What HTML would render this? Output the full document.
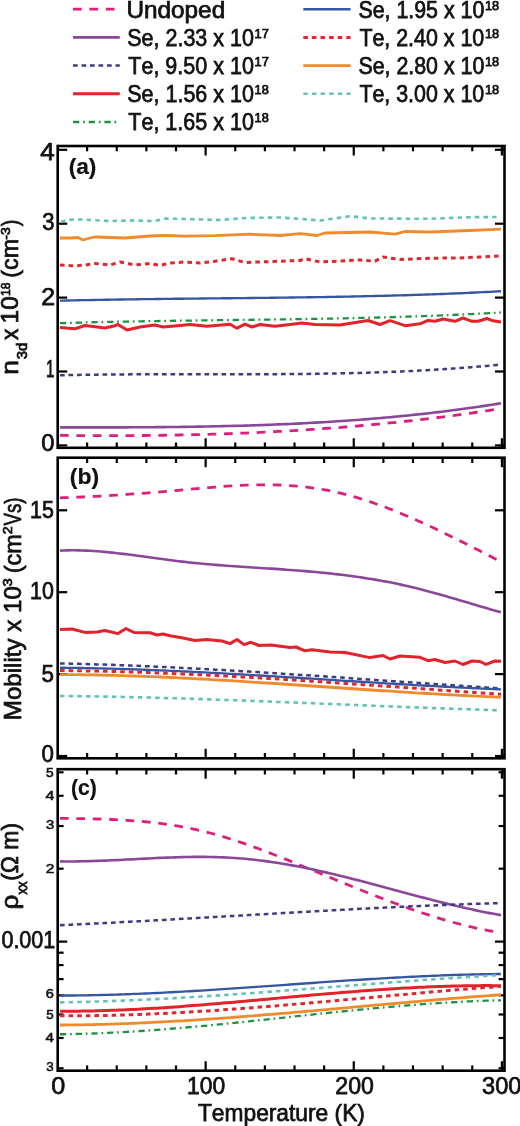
<!DOCTYPE html>
<html><head><meta charset="utf-8"><title>plot</title><style>html,body{margin:0;padding:0;background:#fff;}svg{display:block;filter:blur(0.35px);}</style></head><body>
<svg width="520" height="1126" viewBox="0 0 520 1126" font-family='"Liberation Sans", Arial, sans-serif' fill="#111">
<style>text{font-kerning:none;stroke:#111;stroke-width:0.75px;}</style>
<rect width="520" height="1126" fill="#fff"/>
<line x1="73.0" y1="9.20" x2="119.8" y2="9.20" stroke="#dc1f7d" stroke-width="2.8" stroke-dasharray="8.7 7.7"/>
<text x="126.40" y="17.50" font-size="24.3" font-weight="normal" textLength="98.80" lengthAdjust="spacingAndGlyphs">Undoped</text>
<line x1="73.0" y1="37.40" x2="119.8" y2="37.40" stroke="#8a4698" stroke-width="2.6"/>
<text x="127.30" y="45.70" font-size="24.3" font-weight="normal" textLength="126.56" lengthAdjust="spacingAndGlyphs">Se, 2.33 x 10</text>
<text x="254.60" y="37.70" font-size="12.6" font-weight="normal" textLength="14.27" lengthAdjust="spacingAndGlyphs">17</text>
<line x1="73.0" y1="65.60" x2="119.8" y2="65.60" stroke="#3d3b84" stroke-width="2.5" stroke-dasharray="4.7 3.8"/>
<text x="128.29" y="73.90" font-size="24.3" font-weight="normal" textLength="125.57" lengthAdjust="spacingAndGlyphs">Te, 9.50 x 10</text>
<text x="254.60" y="65.90" font-size="12.6" font-weight="normal" textLength="14.27" lengthAdjust="spacingAndGlyphs">17</text>
<line x1="73.0" y1="93.80" x2="119.8" y2="93.80" stroke="#e3222b" stroke-width="3.0"/>
<text x="127.30" y="102.10" font-size="24.3" font-weight="normal" textLength="126.56" lengthAdjust="spacingAndGlyphs">Se, 1.56 x 10</text>
<text x="254.60" y="94.10" font-size="12.6" font-weight="normal" textLength="14.17" lengthAdjust="spacingAndGlyphs">18</text>
<line x1="73.0" y1="122.00" x2="119.8" y2="122.00" stroke="#1c9444" stroke-width="2.3" stroke-dasharray="6.3 3.8 1.7 3.9"/>
<text x="128.29" y="130.30" font-size="24.3" font-weight="normal" textLength="125.57" lengthAdjust="spacingAndGlyphs">Te, 1.65 x 10</text>
<text x="254.60" y="122.30" font-size="12.6" font-weight="normal" textLength="14.17" lengthAdjust="spacingAndGlyphs">18</text>
<line x1="303.3" y1="9.20" x2="350.6" y2="9.20" stroke="#3656a2" stroke-width="2.35"/>
<text x="358.41" y="17.50" font-size="24.3" font-weight="normal" textLength="125.85" lengthAdjust="spacingAndGlyphs">Se, 1.95 x 10</text>
<text x="485.00" y="9.50" font-size="12.6" font-weight="normal" textLength="14.17" lengthAdjust="spacingAndGlyphs">18</text>
<line x1="303.3" y1="37.40" x2="350.6" y2="37.40" stroke="#dc2830" stroke-width="3.0" stroke-dasharray="4.6 4.0"/>
<text x="359.39" y="45.70" font-size="24.3" font-weight="normal" textLength="124.87" lengthAdjust="spacingAndGlyphs">Te, 2.40 x 10</text>
<text x="485.00" y="37.70" font-size="12.6" font-weight="normal" textLength="14.17" lengthAdjust="spacingAndGlyphs">18</text>
<line x1="303.3" y1="65.60" x2="350.6" y2="65.60" stroke="#f18a2b" stroke-width="2.8"/>
<text x="358.41" y="73.90" font-size="24.3" font-weight="normal" textLength="125.85" lengthAdjust="spacingAndGlyphs">Se, 2.80 x 10</text>
<text x="485.00" y="65.90" font-size="12.6" font-weight="normal" textLength="14.17" lengthAdjust="spacingAndGlyphs">18</text>
<line x1="303.3" y1="93.80" x2="350.6" y2="93.80" stroke="#64c1ba" stroke-width="2.6" stroke-dasharray="4.5 4.15"/>
<text x="359.39" y="102.10" font-size="24.3" font-weight="normal" textLength="124.87" lengthAdjust="spacingAndGlyphs">Te, 3.00 x 10</text>
<text x="485.00" y="94.10" font-size="12.6" font-weight="normal" textLength="14.17" lengthAdjust="spacingAndGlyphs">18</text>
<rect x="57.7" y="146.0" width="446.80" height="301.80" fill="none" stroke="#000" stroke-width="2.6"/>
<line x1="87.13" y1="146.00" x2="87.13" y2="151.30" stroke="#000" stroke-width="2.2"/>
<line x1="87.13" y1="447.80" x2="87.13" y2="442.50" stroke="#000" stroke-width="2.2"/>
<line x1="116.75" y1="146.00" x2="116.75" y2="151.30" stroke="#000" stroke-width="2.2"/>
<line x1="116.75" y1="447.80" x2="116.75" y2="442.50" stroke="#000" stroke-width="2.2"/>
<line x1="146.38" y1="146.00" x2="146.38" y2="151.30" stroke="#000" stroke-width="2.2"/>
<line x1="146.38" y1="447.80" x2="146.38" y2="442.50" stroke="#000" stroke-width="2.2"/>
<line x1="176.00" y1="146.00" x2="176.00" y2="151.30" stroke="#000" stroke-width="2.2"/>
<line x1="176.00" y1="447.80" x2="176.00" y2="442.50" stroke="#000" stroke-width="2.2"/>
<line x1="205.63" y1="146.00" x2="205.63" y2="155.50" stroke="#000" stroke-width="2.2"/>
<line x1="205.63" y1="447.80" x2="205.63" y2="438.30" stroke="#000" stroke-width="2.2"/>
<line x1="235.26" y1="146.00" x2="235.26" y2="151.30" stroke="#000" stroke-width="2.2"/>
<line x1="235.26" y1="447.80" x2="235.26" y2="442.50" stroke="#000" stroke-width="2.2"/>
<line x1="264.88" y1="146.00" x2="264.88" y2="151.30" stroke="#000" stroke-width="2.2"/>
<line x1="264.88" y1="447.80" x2="264.88" y2="442.50" stroke="#000" stroke-width="2.2"/>
<line x1="294.51" y1="146.00" x2="294.51" y2="151.30" stroke="#000" stroke-width="2.2"/>
<line x1="294.51" y1="447.80" x2="294.51" y2="442.50" stroke="#000" stroke-width="2.2"/>
<line x1="324.13" y1="146.00" x2="324.13" y2="151.30" stroke="#000" stroke-width="2.2"/>
<line x1="324.13" y1="447.80" x2="324.13" y2="442.50" stroke="#000" stroke-width="2.2"/>
<line x1="353.76" y1="146.00" x2="353.76" y2="155.50" stroke="#000" stroke-width="2.2"/>
<line x1="353.76" y1="447.80" x2="353.76" y2="438.30" stroke="#000" stroke-width="2.2"/>
<line x1="383.39" y1="146.00" x2="383.39" y2="151.30" stroke="#000" stroke-width="2.2"/>
<line x1="383.39" y1="447.80" x2="383.39" y2="442.50" stroke="#000" stroke-width="2.2"/>
<line x1="413.01" y1="146.00" x2="413.01" y2="151.30" stroke="#000" stroke-width="2.2"/>
<line x1="413.01" y1="447.80" x2="413.01" y2="442.50" stroke="#000" stroke-width="2.2"/>
<line x1="442.64" y1="146.00" x2="442.64" y2="151.30" stroke="#000" stroke-width="2.2"/>
<line x1="442.64" y1="447.80" x2="442.64" y2="442.50" stroke="#000" stroke-width="2.2"/>
<line x1="472.26" y1="146.00" x2="472.26" y2="151.30" stroke="#000" stroke-width="2.2"/>
<line x1="472.26" y1="447.80" x2="472.26" y2="442.50" stroke="#000" stroke-width="2.2"/>
<line x1="501.89" y1="146.00" x2="501.89" y2="155.50" stroke="#000" stroke-width="2.2"/>
<line x1="501.89" y1="447.80" x2="501.89" y2="438.30" stroke="#000" stroke-width="2.2"/>
<line x1="57.70" y1="445.40" x2="67.20" y2="445.40" stroke="#000" stroke-width="2.2"/>
<line x1="504.50" y1="445.40" x2="495.00" y2="445.40" stroke="#000" stroke-width="2.2"/>
<line x1="57.70" y1="371.50" x2="67.20" y2="371.50" stroke="#000" stroke-width="2.2"/>
<line x1="504.50" y1="371.50" x2="495.00" y2="371.50" stroke="#000" stroke-width="2.2"/>
<line x1="57.70" y1="297.60" x2="67.20" y2="297.60" stroke="#000" stroke-width="2.2"/>
<line x1="504.50" y1="297.60" x2="495.00" y2="297.60" stroke="#000" stroke-width="2.2"/>
<line x1="57.70" y1="223.70" x2="67.20" y2="223.70" stroke="#000" stroke-width="2.2"/>
<line x1="504.50" y1="223.70" x2="495.00" y2="223.70" stroke="#000" stroke-width="2.2"/>
<line x1="57.70" y1="149.80" x2="67.20" y2="149.80" stroke="#000" stroke-width="2.2"/>
<line x1="504.50" y1="149.80" x2="495.00" y2="149.80" stroke="#000" stroke-width="2.2"/>
<text x="40.18" y="159.60" font-size="24.3" font-weight="normal" textLength="14.40" lengthAdjust="spacingAndGlyphs">4</text>
<text x="42.14" y="230.30" font-size="24.3" font-weight="normal" textLength="12.26" lengthAdjust="spacingAndGlyphs">3</text>
<text x="41.22" y="305.30" font-size="24.3" font-weight="normal" textLength="13.86" lengthAdjust="spacingAndGlyphs">2</text>
<text x="46.12" y="377.40" font-size="24.3" font-weight="normal" textLength="8.45" lengthAdjust="spacingAndGlyphs">1</text>
<text x="41.15" y="451.10" font-size="24.3" font-weight="normal" textLength="13.20" lengthAdjust="spacingAndGlyphs">0</text>
<text x="68.65" y="174.40" font-size="21.6" font-weight="bold" textLength="27.71" lengthAdjust="spacingAndGlyphs" style="stroke-width:0.2px">(a)</text>
<path d="M61.00,222.00 L66.00,220.50 L72.00,219.50 L82.00,219.50 L100.00,220.50 L110.00,221.00 L130.00,220.50 L155.00,221.00 L165.00,218.50 L185.00,219.00 L220.00,220.00 L245.00,218.00 L280.00,217.50 L300.00,218.80 L320.00,220.50 L350.00,216.20 L370.00,218.50 L430.00,218.80 L470.00,217.20 L501.00,217.00" fill="none" stroke="#64c1ba" stroke-width="2.6" stroke-dasharray="4.5 4.15" stroke-linejoin="round"/>
<path d="M60.00,238.00 L70.00,238.00 L78.00,237.50 L83.00,240.00 L90.00,238.00 L95.00,237.00 L125.00,238.00 L150.00,236.00 L165.00,235.50 L185.00,236.20 L215.00,235.70 L250.00,234.20 L280.00,235.50 L300.00,233.70 L317.00,235.50 L325.00,233.00 L370.00,232.00 L395.00,234.20 L405.00,231.50 L430.00,232.00 L470.00,230.50 L501.00,229.20" fill="none" stroke="#f18a2b" stroke-width="2.8" stroke-linejoin="round"/>
<path d="M60.00,265.00 L75.00,266.00 L85.00,265.00 L95.00,263.50 L110.00,265.00 L120.00,262.00 L135.00,265.00 L150.00,263.50 L160.00,265.50 L170.00,263.00 L185.00,262.00 L200.00,263.00 L215.00,261.20 L232.00,258.70 L245.00,262.50 L280.00,261.20 L300.00,260.50 L305.00,258.70 L320.00,262.00 L360.00,260.00 L375.00,261.20 L383.00,257.00 L400.00,259.50 L430.00,258.20 L460.00,258.00 L480.00,257.00 L501.00,256.00" fill="none" stroke="#dc2830" stroke-width="3.0" stroke-dasharray="4.6 4.0" stroke-linejoin="round"/>
<path d="M60.00,300.70 L63.71,300.61 L67.41,300.52 L71.12,300.44 L74.82,300.35 L78.53,300.27 L82.24,300.20 L85.94,300.12 L89.65,300.05 L93.35,299.98 L97.06,299.91 L100.76,299.84 L104.47,299.77 L108.18,299.71 L111.88,299.65 L115.59,299.58 L119.29,299.53 L123.00,299.47 L126.71,299.41 L130.41,299.36 L134.12,299.30 L137.82,299.25 L141.53,299.20 L145.24,299.15 L148.94,299.10 L152.65,299.05 L156.35,299.01 L160.06,298.96 L163.76,298.92 L167.47,298.87 L171.18,298.83 L174.88,298.79 L178.59,298.75 L182.29,298.71 L186.00,298.67 L189.71,298.63 L193.41,298.59 L197.12,298.55 L200.82,298.51 L204.53,298.47 L208.24,298.43 L211.94,298.40 L215.65,298.36 L219.35,298.32 L223.06,298.28 L226.76,298.24 L230.47,298.21 L234.18,298.17 L237.88,298.13 L241.59,298.09 L245.29,298.05 L249.00,298.01 L252.71,297.97 L256.41,297.93 L260.12,297.89 L263.82,297.85 L267.53,297.81 L271.24,297.76 L274.94,297.72 L278.65,297.68 L282.35,297.63 L286.06,297.58 L289.76,297.54 L293.47,297.49 L297.18,297.44 L300.88,297.38 L304.59,297.33 L308.29,297.28 L312.00,297.22 L315.71,297.17 L319.41,297.11 L323.12,297.05 L326.82,296.99 L330.53,296.92 L334.24,296.86 L337.94,296.79 L341.65,296.72 L345.35,296.65 L349.06,296.58 L352.76,296.51 L356.47,296.43 L360.18,296.35 L363.88,296.27 L367.59,296.19 L371.29,296.10 L375.00,296.02 L378.71,295.93 L382.41,295.83 L386.12,295.74 L389.82,295.64 L393.53,295.54 L397.24,295.44 L400.94,295.33 L404.65,295.22 L408.35,295.11 L412.06,295.00 L415.76,294.88 L419.47,294.76 L423.18,294.63 L426.88,294.51 L430.59,294.38 L434.29,294.24 L438.00,294.11 L441.71,293.97 L445.41,293.82 L449.12,293.68 L452.82,293.52 L456.53,293.37 L460.24,293.21 L463.94,293.05 L467.65,292.88 L471.35,292.72 L475.06,292.54 L478.76,292.36 L482.47,292.18 L486.18,292.00 L489.88,291.81 L493.59,291.61 L497.29,291.42 L501.00,291.21" fill="none" stroke="#3656a2" stroke-width="2.35" stroke-linejoin="round"/>
<path d="M60.00,323.17 L63.71,323.06 L67.41,322.96 L71.12,322.85 L74.82,322.75 L78.53,322.65 L82.24,322.55 L85.94,322.45 L89.65,322.36 L93.35,322.27 L97.06,322.18 L100.76,322.10 L104.47,322.02 L108.18,321.93 L111.88,321.86 L115.59,321.78 L119.29,321.70 L123.00,321.63 L126.71,321.56 L130.41,321.49 L134.12,321.42 L137.82,321.36 L141.53,321.29 L145.24,321.23 L148.94,321.17 L152.65,321.11 L156.35,321.05 L160.06,320.99 L163.76,320.93 L167.47,320.88 L171.18,320.82 L174.88,320.77 L178.59,320.72 L182.29,320.67 L186.00,320.61 L189.71,320.56 L193.41,320.51 L197.12,320.47 L200.82,320.42 L204.53,320.37 L208.24,320.32 L211.94,320.28 L215.65,320.23 L219.35,320.18 L223.06,320.14 L226.76,320.09 L230.47,320.04 L234.18,320.00 L237.88,319.95 L241.59,319.90 L245.29,319.86 L249.00,319.81 L252.71,319.76 L256.41,319.72 L260.12,319.67 L263.82,319.62 L267.53,319.57 L271.24,319.52 L274.94,319.47 L278.65,319.42 L282.35,319.37 L286.06,319.31 L289.76,319.26 L293.47,319.20 L297.18,319.15 L300.88,319.09 L304.59,319.03 L308.29,318.97 L312.00,318.91 L315.71,318.85 L319.41,318.78 L323.12,318.71 L326.82,318.65 L330.53,318.58 L334.24,318.51 L337.94,318.43 L341.65,318.36 L345.35,318.28 L349.06,318.20 L352.76,318.12 L356.47,318.04 L360.18,317.95 L363.88,317.87 L367.59,317.78 L371.29,317.69 L375.00,317.59 L378.71,317.49 L382.41,317.39 L386.12,317.29 L389.82,317.19 L393.53,317.08 L397.24,316.97 L400.94,316.85 L404.65,316.74 L408.35,316.62 L412.06,316.50 L415.76,316.37 L419.47,316.24 L423.18,316.11 L426.88,315.97 L430.59,315.83 L434.29,315.69 L438.00,315.55 L441.71,315.40 L445.41,315.24 L449.12,315.09 L452.82,314.93 L456.53,314.76 L460.24,314.59 L463.94,314.42 L467.65,314.24 L471.35,314.06 L475.06,313.88 L478.76,313.69 L482.47,313.49 L486.18,313.30 L489.88,313.09 L493.59,312.89 L497.29,312.68 L501.00,312.46" fill="none" stroke="#1c9444" stroke-width="2.3" stroke-dasharray="6.3 3.8 1.7 3.9" stroke-linejoin="round"/>
<path d="M60.00,327.50 L75.00,328.70 L85.00,325.50 L105.00,328.00 L115.00,325.70 L118.00,324.50 L127.00,330.00 L140.00,327.00 L155.00,325.00 L163.00,327.00 L180.00,325.50 L190.00,324.50 L207.00,326.20 L230.00,324.20 L237.00,328.20 L245.00,324.20 L252.00,327.00 L260.00,324.50 L275.00,326.20 L290.00,324.50 L302.00,323.00 L315.00,324.50 L340.00,325.00 L368.00,320.50 L380.00,324.50 L390.00,320.70 L405.00,325.70 L420.00,323.80 L428.00,320.40 L435.00,321.30 L443.00,319.00 L455.00,321.30 L463.00,318.00 L472.00,321.30 L478.00,321.30 L487.00,318.50 L493.00,320.80 L501.00,322.00" fill="none" stroke="#e3222b" stroke-width="3.0" stroke-linejoin="round"/>
<path d="M60.00,375.24 L63.71,375.16 L67.41,375.09 L71.12,375.02 L74.82,374.95 L78.53,374.89 L82.24,374.84 L85.94,374.78 L89.65,374.73 L93.35,374.68 L97.06,374.64 L100.76,374.60 L104.47,374.56 L108.18,374.53 L111.88,374.49 L115.59,374.47 L119.29,374.44 L123.00,374.41 L126.71,374.39 L130.41,374.37 L134.12,374.36 L137.82,374.34 L141.53,374.33 L145.24,374.31 L148.94,374.30 L152.65,374.30 L156.35,374.29 L160.06,374.28 L163.76,374.28 L167.47,374.28 L171.18,374.27 L174.88,374.27 L178.59,374.27 L182.29,374.27 L186.00,374.27 L189.71,374.27 L193.41,374.27 L197.12,374.28 L200.82,374.28 L204.53,374.28 L208.24,374.28 L211.94,374.28 L215.65,374.28 L219.35,374.29 L223.06,374.29 L226.76,374.28 L230.47,374.28 L234.18,374.28 L237.88,374.28 L241.59,374.27 L245.29,374.27 L249.00,374.26 L252.71,374.25 L256.41,374.24 L260.12,374.23 L263.82,374.22 L267.53,374.20 L271.24,374.19 L274.94,374.17 L278.65,374.15 L282.35,374.12 L286.06,374.10 L289.76,374.07 L293.47,374.04 L297.18,374.00 L300.88,373.97 L304.59,373.93 L308.29,373.88 L312.00,373.84 L315.71,373.79 L319.41,373.73 L323.12,373.68 L326.82,373.62 L330.53,373.55 L334.24,373.48 L337.94,373.41 L341.65,373.33 L345.35,373.25 L349.06,373.17 L352.76,373.08 L356.47,372.99 L360.18,372.89 L363.88,372.78 L367.59,372.68 L371.29,372.56 L375.00,372.44 L378.71,372.32 L382.41,372.19 L386.12,372.06 L389.82,371.92 L393.53,371.77 L397.24,371.62 L400.94,371.46 L404.65,371.30 L408.35,371.13 L412.06,370.95 L415.76,370.77 L419.47,370.58 L423.18,370.39 L426.88,370.18 L430.59,369.98 L434.29,369.76 L438.00,369.54 L441.71,369.31 L445.41,369.07 L449.12,368.83 L452.82,368.57 L456.53,368.31 L460.24,368.05 L463.94,367.77 L467.65,367.49 L471.35,367.20 L475.06,366.90 L478.76,366.59 L482.47,366.28 L486.18,365.95 L489.88,365.62 L493.59,365.28 L497.29,364.93 L501.00,364.57" fill="none" stroke="#3d3b84" stroke-width="2.5" stroke-dasharray="4.7 3.8" stroke-linejoin="round"/>
<path d="M60.00,427.41 L63.71,427.41 L67.41,427.41 L71.12,427.41 L74.82,427.42 L78.53,427.42 L82.24,427.42 L85.94,427.41 L89.65,427.41 L93.35,427.41 L97.06,427.41 L100.76,427.40 L104.47,427.40 L108.18,427.39 L111.88,427.38 L115.59,427.37 L119.29,427.36 L123.00,427.35 L126.71,427.34 L130.41,427.32 L134.12,427.31 L137.82,427.29 L141.53,427.27 L145.24,427.24 L148.94,427.22 L152.65,427.19 L156.35,427.16 L160.06,427.13 L163.76,427.10 L167.47,427.06 L171.18,427.02 L174.88,426.98 L178.59,426.94 L182.29,426.89 L186.00,426.84 L189.71,426.79 L193.41,426.73 L197.12,426.67 L200.82,426.61 L204.53,426.54 L208.24,426.47 L211.94,426.40 L215.65,426.32 L219.35,426.24 L223.06,426.16 L226.76,426.07 L230.47,425.98 L234.18,425.89 L237.88,425.79 L241.59,425.68 L245.29,425.58 L249.00,425.46 L252.71,425.35 L256.41,425.23 L260.12,425.10 L263.82,424.97 L267.53,424.84 L271.24,424.70 L274.94,424.55 L278.65,424.40 L282.35,424.25 L286.06,424.09 L289.76,423.93 L293.47,423.76 L297.18,423.58 L300.88,423.40 L304.59,423.21 L308.29,423.02 L312.00,422.82 L315.71,422.62 L319.41,422.41 L323.12,422.20 L326.82,421.98 L330.53,421.75 L334.24,421.52 L337.94,421.28 L341.65,421.03 L345.35,420.78 L349.06,420.52 L352.76,420.25 L356.47,419.98 L360.18,419.70 L363.88,419.42 L367.59,419.12 L371.29,418.82 L375.00,418.52 L378.71,418.20 L382.41,417.88 L386.12,417.55 L389.82,417.22 L393.53,416.87 L397.24,416.52 L400.94,416.16 L404.65,415.80 L408.35,415.42 L412.06,415.04 L415.76,414.65 L419.47,414.25 L423.18,413.84 L426.88,413.43 L430.59,413.00 L434.29,412.57 L438.00,412.13 L441.71,411.68 L445.41,411.23 L449.12,410.76 L452.82,410.29 L456.53,409.80 L460.24,409.31 L463.94,408.81 L467.65,408.30 L471.35,407.78 L475.06,407.25 L478.76,406.71 L482.47,406.16 L486.18,405.60 L489.88,405.03 L493.59,404.46 L497.29,403.87 L501.00,403.27" fill="none" stroke="#8a4698" stroke-width="2.6" stroke-linejoin="round"/>
<path d="M60.00,435.39 L63.71,435.43 L67.41,435.47 L71.12,435.50 L74.82,435.53 L78.53,435.56 L82.24,435.58 L85.94,435.60 L89.65,435.62 L93.35,435.63 L97.06,435.65 L100.76,435.65 L104.47,435.66 L108.18,435.66 L111.88,435.66 L115.59,435.65 L119.29,435.65 L123.00,435.63 L126.71,435.62 L130.41,435.60 L134.12,435.58 L137.82,435.55 L141.53,435.52 L145.24,435.49 L148.94,435.45 L152.65,435.41 L156.35,435.37 L160.06,435.32 L163.76,435.26 L167.47,435.21 L171.18,435.15 L174.88,435.08 L178.59,435.01 L182.29,434.94 L186.00,434.86 L189.71,434.78 L193.41,434.70 L197.12,434.61 L200.82,434.51 L204.53,434.41 L208.24,434.31 L211.94,434.20 L215.65,434.09 L219.35,433.97 L223.06,433.85 L226.76,433.73 L230.47,433.60 L234.18,433.46 L237.88,433.32 L241.59,433.18 L245.29,433.03 L249.00,432.87 L252.71,432.71 L256.41,432.55 L260.12,432.38 L263.82,432.21 L267.53,432.03 L271.24,431.84 L274.94,431.65 L278.65,431.46 L282.35,431.26 L286.06,431.05 L289.76,430.84 L293.47,430.62 L297.18,430.40 L300.88,430.17 L304.59,429.94 L308.29,429.70 L312.00,429.46 L315.71,429.21 L319.41,428.95 L323.12,428.69 L326.82,428.42 L330.53,428.15 L334.24,427.87 L337.94,427.59 L341.65,427.30 L345.35,427.00 L349.06,426.70 L352.76,426.39 L356.47,426.07 L360.18,425.75 L363.88,425.42 L367.59,425.09 L371.29,424.75 L375.00,424.41 L378.71,424.05 L382.41,423.69 L386.12,423.33 L389.82,422.96 L393.53,422.58 L397.24,422.19 L400.94,421.80 L404.65,421.40 L408.35,421.00 L412.06,420.59 L415.76,420.17 L419.47,419.74 L423.18,419.31 L426.88,418.87 L430.59,418.43 L434.29,417.97 L438.00,417.51 L441.71,417.05 L445.41,416.57 L449.12,416.09 L452.82,415.60 L456.53,415.11 L460.24,414.60 L463.94,414.09 L467.65,413.57 L471.35,413.05 L475.06,412.51 L478.76,411.97 L482.47,411.43 L486.18,410.87 L489.88,410.31 L493.59,409.74 L497.29,409.16 L501.00,408.57" fill="none" stroke="#dc1f7d" stroke-width="2.8" stroke-dasharray="8.7 7.7" stroke-linejoin="round"/>
<rect x="57.7" y="457.7" width="446.80" height="300.60" fill="none" stroke="#000" stroke-width="2.6"/>
<line x1="87.13" y1="457.70" x2="87.13" y2="463.00" stroke="#000" stroke-width="2.2"/>
<line x1="87.13" y1="758.30" x2="87.13" y2="753.00" stroke="#000" stroke-width="2.2"/>
<line x1="116.75" y1="457.70" x2="116.75" y2="463.00" stroke="#000" stroke-width="2.2"/>
<line x1="116.75" y1="758.30" x2="116.75" y2="753.00" stroke="#000" stroke-width="2.2"/>
<line x1="146.38" y1="457.70" x2="146.38" y2="463.00" stroke="#000" stroke-width="2.2"/>
<line x1="146.38" y1="758.30" x2="146.38" y2="753.00" stroke="#000" stroke-width="2.2"/>
<line x1="176.00" y1="457.70" x2="176.00" y2="463.00" stroke="#000" stroke-width="2.2"/>
<line x1="176.00" y1="758.30" x2="176.00" y2="753.00" stroke="#000" stroke-width="2.2"/>
<line x1="205.63" y1="457.70" x2="205.63" y2="467.20" stroke="#000" stroke-width="2.2"/>
<line x1="205.63" y1="758.30" x2="205.63" y2="748.80" stroke="#000" stroke-width="2.2"/>
<line x1="235.26" y1="457.70" x2="235.26" y2="463.00" stroke="#000" stroke-width="2.2"/>
<line x1="235.26" y1="758.30" x2="235.26" y2="753.00" stroke="#000" stroke-width="2.2"/>
<line x1="264.88" y1="457.70" x2="264.88" y2="463.00" stroke="#000" stroke-width="2.2"/>
<line x1="264.88" y1="758.30" x2="264.88" y2="753.00" stroke="#000" stroke-width="2.2"/>
<line x1="294.51" y1="457.70" x2="294.51" y2="463.00" stroke="#000" stroke-width="2.2"/>
<line x1="294.51" y1="758.30" x2="294.51" y2="753.00" stroke="#000" stroke-width="2.2"/>
<line x1="324.13" y1="457.70" x2="324.13" y2="463.00" stroke="#000" stroke-width="2.2"/>
<line x1="324.13" y1="758.30" x2="324.13" y2="753.00" stroke="#000" stroke-width="2.2"/>
<line x1="353.76" y1="457.70" x2="353.76" y2="467.20" stroke="#000" stroke-width="2.2"/>
<line x1="353.76" y1="758.30" x2="353.76" y2="748.80" stroke="#000" stroke-width="2.2"/>
<line x1="383.39" y1="457.70" x2="383.39" y2="463.00" stroke="#000" stroke-width="2.2"/>
<line x1="383.39" y1="758.30" x2="383.39" y2="753.00" stroke="#000" stroke-width="2.2"/>
<line x1="413.01" y1="457.70" x2="413.01" y2="463.00" stroke="#000" stroke-width="2.2"/>
<line x1="413.01" y1="758.30" x2="413.01" y2="753.00" stroke="#000" stroke-width="2.2"/>
<line x1="442.64" y1="457.70" x2="442.64" y2="463.00" stroke="#000" stroke-width="2.2"/>
<line x1="442.64" y1="758.30" x2="442.64" y2="753.00" stroke="#000" stroke-width="2.2"/>
<line x1="472.26" y1="457.70" x2="472.26" y2="463.00" stroke="#000" stroke-width="2.2"/>
<line x1="472.26" y1="758.30" x2="472.26" y2="753.00" stroke="#000" stroke-width="2.2"/>
<line x1="501.89" y1="457.70" x2="501.89" y2="467.20" stroke="#000" stroke-width="2.2"/>
<line x1="501.89" y1="758.30" x2="501.89" y2="748.80" stroke="#000" stroke-width="2.2"/>
<line x1="57.70" y1="756.00" x2="67.20" y2="756.00" stroke="#000" stroke-width="2.2"/>
<line x1="504.50" y1="756.00" x2="495.00" y2="756.00" stroke="#000" stroke-width="2.2"/>
<line x1="57.70" y1="674.10" x2="67.20" y2="674.10" stroke="#000" stroke-width="2.2"/>
<line x1="504.50" y1="674.10" x2="495.00" y2="674.10" stroke="#000" stroke-width="2.2"/>
<line x1="57.70" y1="592.20" x2="67.20" y2="592.20" stroke="#000" stroke-width="2.2"/>
<line x1="504.50" y1="592.20" x2="495.00" y2="592.20" stroke="#000" stroke-width="2.2"/>
<line x1="57.70" y1="510.30" x2="67.20" y2="510.30" stroke="#000" stroke-width="2.2"/>
<line x1="504.50" y1="510.30" x2="495.00" y2="510.30" stroke="#000" stroke-width="2.2"/>
<text x="30.04" y="517.80" font-size="24.3" font-weight="normal" textLength="23.89" lengthAdjust="spacingAndGlyphs">15</text>
<text x="30.04" y="598.80" font-size="24.3" font-weight="normal" textLength="23.82" lengthAdjust="spacingAndGlyphs">10</text>
<text x="41.48" y="681.50" font-size="24.3" font-weight="normal" textLength="12.49" lengthAdjust="spacingAndGlyphs">5</text>
<text x="41.50" y="761.50" font-size="24.3" font-weight="normal" textLength="12.39" lengthAdjust="spacingAndGlyphs">0</text>
<text x="69.83" y="484.20" font-size="21.6" font-weight="bold" textLength="29.34" lengthAdjust="spacingAndGlyphs" style="stroke-width:0.2px">(b)</text>
<path d="M60.00,497.80 L63.71,497.69 L67.41,497.57 L71.12,497.44 L74.82,497.30 L78.53,497.16 L82.24,497.00 L85.94,496.83 L89.65,496.66 L93.35,496.47 L97.06,496.28 L100.76,496.08 L104.47,495.87 L108.18,495.66 L111.88,495.43 L115.59,495.20 L119.29,494.96 L123.00,494.72 L126.71,494.47 L130.41,494.21 L134.12,493.94 L137.82,493.67 L141.53,493.39 L145.24,493.11 L148.94,492.82 L152.65,492.52 L156.35,492.22 L160.06,491.91 L163.76,491.60 L167.47,491.28 L171.18,490.96 L174.88,490.64 L178.59,490.31 L182.29,489.97 L186.00,489.63 L189.71,489.30 L193.41,488.96 L197.12,488.62 L200.82,488.29 L204.53,487.96 L208.24,487.64 L211.94,487.32 L215.65,487.02 L219.35,486.73 L223.06,486.46 L226.76,486.19 L230.47,485.95 L234.18,485.72 L237.88,485.52 L241.59,485.33 L245.29,485.17 L249.00,485.04 L252.71,484.93 L256.41,484.85 L260.12,484.80 L263.82,484.78 L267.53,484.79 L271.24,484.83 L274.94,484.90 L278.65,485.02 L282.35,485.16 L286.06,485.35 L289.76,485.57 L293.47,485.83 L297.18,486.14 L300.88,486.49 L304.59,486.88 L308.29,487.31 L312.00,487.79 L315.71,488.32 L319.41,488.90 L323.12,489.52 L326.82,490.20 L330.53,490.93 L334.24,491.71 L337.94,492.54 L341.65,493.43 L345.35,494.36 L349.06,495.34 L352.76,496.37 L356.47,497.44 L360.18,498.56 L363.88,499.72 L367.59,500.92 L371.29,502.17 L375.00,503.45 L378.71,504.77 L382.41,506.13 L386.12,507.52 L389.82,508.95 L393.53,510.41 L397.24,511.90 L400.94,513.43 L404.65,514.98 L408.35,516.56 L412.06,518.17 L415.76,519.80 L419.47,521.46 L423.18,523.15 L426.88,524.85 L430.59,526.58 L434.29,528.32 L438.00,530.09 L441.71,531.87 L445.41,533.67 L449.12,535.48 L452.82,537.31 L456.53,539.14 L460.24,540.99 L463.94,542.85 L467.65,544.72 L471.35,546.60 L475.06,548.48 L478.76,550.36 L482.47,552.26 L486.18,554.15 L489.88,556.04 L493.59,557.94 L497.29,559.83 L501.00,561.72" fill="none" stroke="#dc1f7d" stroke-width="2.8" stroke-dasharray="8.7 7.7" stroke-linejoin="round"/>
<path d="M60.00,550.61 L63.71,550.46 L67.41,550.36 L71.12,550.32 L74.82,550.32 L78.53,550.38 L82.24,550.47 L85.94,550.61 L89.65,550.80 L93.35,551.02 L97.06,551.27 L100.76,551.56 L104.47,551.88 L108.18,552.23 L111.88,552.60 L115.59,553.00 L119.29,553.42 L123.00,553.87 L126.71,554.32 L130.41,554.80 L134.12,555.28 L137.82,555.78 L141.53,556.28 L145.24,556.79 L148.94,557.30 L152.65,557.81 L156.35,558.32 L160.06,558.83 L163.76,559.33 L167.47,559.82 L171.18,560.31 L174.88,560.77 L178.59,561.23 L182.29,561.66 L186.00,562.08 L189.71,562.48 L193.41,562.86 L197.12,563.23 L200.82,563.58 L204.53,563.92 L208.24,564.25 L211.94,564.56 L215.65,564.86 L219.35,565.15 L223.06,565.44 L226.76,565.71 L230.47,565.98 L234.18,566.24 L237.88,566.49 L241.59,566.74 L245.29,566.99 L249.00,567.23 L252.71,567.47 L256.41,567.71 L260.12,567.95 L263.82,568.19 L267.53,568.43 L271.24,568.67 L274.94,568.92 L278.65,569.17 L282.35,569.42 L286.06,569.68 L289.76,569.95 L293.47,570.22 L297.18,570.51 L300.88,570.80 L304.59,571.10 L308.29,571.41 L312.00,571.74 L315.71,572.08 L319.41,572.43 L323.12,572.79 L326.82,573.16 L330.53,573.56 L334.24,573.96 L337.94,574.38 L341.65,574.82 L345.35,575.28 L349.06,575.75 L352.76,576.25 L356.47,576.76 L360.18,577.29 L363.88,577.84 L367.59,578.41 L371.29,579.01 L375.00,579.62 L378.71,580.26 L382.41,580.93 L386.12,581.61 L389.82,582.33 L393.53,583.06 L397.24,583.83 L400.94,584.62 L404.65,585.44 L408.35,586.28 L412.06,587.16 L415.76,588.06 L419.47,588.99 L423.18,589.94 L426.88,590.92 L430.59,591.91 L434.29,592.93 L438.00,593.96 L441.71,595.00 L445.41,596.06 L449.12,597.13 L452.82,598.21 L456.53,599.30 L460.24,600.40 L463.94,601.49 L467.65,602.59 L471.35,603.69 L475.06,604.79 L478.76,605.88 L482.47,606.97 L486.18,608.05 L489.88,609.13 L493.59,610.19 L497.29,611.24 L501.00,612.27" fill="none" stroke="#8a4698" stroke-width="2.6" stroke-linejoin="round"/>
<path d="M60.00,629.60 L72.00,629.00 L85.00,632.40 L97.00,632.00 L105.00,630.50 L118.00,633.60 L126.00,628.60 L134.00,632.50 L150.00,632.80 L157.00,635.00 L163.00,634.00 L170.00,635.80 L183.00,638.00 L195.00,640.50 L207.00,639.50 L222.00,641.00 L230.00,643.60 L237.00,639.50 L244.00,644.60 L251.00,642.30 L259.00,645.50 L271.00,645.00 L290.00,647.50 L296.00,647.00 L305.00,650.80 L312.00,649.80 L330.00,652.00 L345.00,652.50 L370.00,657.60 L383.00,655.50 L390.00,659.00 L400.00,656.00 L420.00,657.30 L428.00,660.70 L435.00,659.50 L445.00,662.50 L455.00,661.00 L463.00,664.50 L472.00,661.00 L480.00,661.50 L486.00,664.30 L495.00,661.00 L501.00,661.30" fill="none" stroke="#e3222b" stroke-width="3.0" stroke-linejoin="round"/>
<path d="M60.00,663.42 L63.71,663.50 L67.41,663.58 L71.12,663.67 L74.82,663.76 L78.53,663.86 L82.24,663.95 L85.94,664.06 L89.65,664.16 L93.35,664.27 L97.06,664.38 L100.76,664.50 L104.47,664.62 L108.18,664.74 L111.88,664.87 L115.59,665.00 L119.29,665.14 L123.00,665.27 L126.71,665.41 L130.41,665.56 L134.12,665.71 L137.82,665.86 L141.53,666.01 L145.24,666.17 L148.94,666.32 L152.65,666.49 L156.35,666.65 L160.06,666.82 L163.76,666.99 L167.47,667.16 L171.18,667.34 L174.88,667.52 L178.59,667.70 L182.29,667.89 L186.00,668.07 L189.71,668.26 L193.41,668.46 L197.12,668.65 L200.82,668.85 L204.53,669.05 L208.24,669.25 L211.94,669.45 L215.65,669.66 L219.35,669.86 L223.06,670.07 L226.76,670.29 L230.47,670.50 L234.18,670.72 L237.88,670.93 L241.59,671.15 L245.29,671.37 L249.00,671.60 L252.71,671.82 L256.41,672.05 L260.12,672.28 L263.82,672.51 L267.53,672.74 L271.24,672.97 L274.94,673.21 L278.65,673.44 L282.35,673.68 L286.06,673.92 L289.76,674.16 L293.47,674.40 L297.18,674.64 L300.88,674.88 L304.59,675.13 L308.29,675.37 L312.00,675.62 L315.71,675.87 L319.41,676.11 L323.12,676.36 L326.82,676.61 L330.53,676.86 L334.24,677.11 L337.94,677.37 L341.65,677.62 L345.35,677.87 L349.06,678.12 L352.76,678.38 L356.47,678.63 L360.18,678.89 L363.88,679.14 L367.59,679.40 L371.29,679.65 L375.00,679.91 L378.71,680.17 L382.41,680.42 L386.12,680.68 L389.82,680.93 L393.53,681.19 L397.24,681.45 L400.94,681.70 L404.65,681.96 L408.35,682.21 L412.06,682.47 L415.76,682.72 L419.47,682.98 L423.18,683.23 L426.88,683.49 L430.59,683.74 L434.29,683.99 L438.00,684.24 L441.71,684.49 L445.41,684.75 L449.12,685.00 L452.82,685.24 L456.53,685.49 L460.24,685.74 L463.94,685.99 L467.65,686.23 L471.35,686.48 L475.06,686.72 L478.76,686.96 L482.47,687.21 L486.18,687.45 L489.88,687.68 L493.59,687.92 L497.29,688.16 L501.00,688.39" fill="none" stroke="#3d3b84" stroke-width="2.5" stroke-dasharray="4.7 3.8" stroke-linejoin="round"/>
<path d="M60.00,667.76 L63.71,667.79 L67.41,667.83 L71.12,667.87 L74.82,667.92 L78.53,667.98 L82.24,668.04 L85.94,668.10 L89.65,668.17 L93.35,668.25 L97.06,668.33 L100.76,668.41 L104.47,668.50 L108.18,668.60 L111.88,668.70 L115.59,668.80 L119.29,668.91 L123.00,669.02 L126.71,669.13 L130.41,669.25 L134.12,669.38 L137.82,669.51 L141.53,669.64 L145.24,669.78 L148.94,669.92 L152.65,670.06 L156.35,670.21 L160.06,670.36 L163.76,670.51 L167.47,670.67 L171.18,670.83 L174.88,671.00 L178.59,671.17 L182.29,671.34 L186.00,671.51 L189.71,671.69 L193.41,671.87 L197.12,672.05 L200.82,672.24 L204.53,672.42 L208.24,672.62 L211.94,672.81 L215.65,673.00 L219.35,673.20 L223.06,673.40 L226.76,673.60 L230.47,673.81 L234.18,674.02 L237.88,674.23 L241.59,674.44 L245.29,674.65 L249.00,674.86 L252.71,675.08 L256.41,675.30 L260.12,675.51 L263.82,675.74 L267.53,675.96 L271.24,676.18 L274.94,676.40 L278.65,676.63 L282.35,676.86 L286.06,677.08 L289.76,677.31 L293.47,677.54 L297.18,677.77 L300.88,678.00 L304.59,678.23 L308.29,678.47 L312.00,678.70 L315.71,678.93 L319.41,679.16 L323.12,679.40 L326.82,679.63 L330.53,679.87 L334.24,680.10 L337.94,680.33 L341.65,680.57 L345.35,680.80 L349.06,681.03 L352.76,681.26 L356.47,681.50 L360.18,681.73 L363.88,681.96 L367.59,682.19 L371.29,682.42 L375.00,682.65 L378.71,682.87 L382.41,683.10 L386.12,683.33 L389.82,683.55 L393.53,683.77 L397.24,684.00 L400.94,684.22 L404.65,684.44 L408.35,684.65 L412.06,684.87 L415.76,685.08 L419.47,685.30 L423.18,685.51 L426.88,685.72 L430.59,685.92 L434.29,686.13 L438.00,686.33 L441.71,686.53 L445.41,686.73 L449.12,686.93 L452.82,687.12 L456.53,687.31 L460.24,687.50 L463.94,687.69 L467.65,687.87 L471.35,688.05 L475.06,688.23 L478.76,688.40 L482.47,688.57 L486.18,688.74 L489.88,688.91 L493.59,689.07 L497.29,689.23 L501.00,689.38" fill="none" stroke="#3656a2" stroke-width="2.35" stroke-linejoin="round"/>
<path d="M60.00,670.52 L63.71,670.55 L67.41,670.60 L71.12,670.65 L74.82,670.70 L78.53,670.76 L82.24,670.82 L85.94,670.89 L89.65,670.96 L93.35,671.03 L97.06,671.11 L100.76,671.19 L104.47,671.28 L108.18,671.37 L111.88,671.46 L115.59,671.56 L119.29,671.66 L123.00,671.77 L126.71,671.88 L130.41,671.99 L134.12,672.11 L137.82,672.23 L141.53,672.36 L145.24,672.49 L148.94,672.62 L152.65,672.75 L156.35,672.89 L160.06,673.03 L163.76,673.18 L167.47,673.33 L171.18,673.48 L174.88,673.63 L178.59,673.79 L182.29,673.95 L186.00,674.12 L189.71,674.28 L193.41,674.45 L197.12,674.63 L200.82,674.80 L204.53,674.98 L208.24,675.16 L211.94,675.34 L215.65,675.53 L219.35,675.72 L223.06,675.91 L226.76,676.11 L230.47,676.30 L234.18,676.50 L237.88,676.71 L241.59,676.91 L245.29,677.12 L249.00,677.32 L252.71,677.54 L256.41,677.75 L260.12,677.96 L263.82,678.18 L267.53,678.40 L271.24,678.62 L274.94,678.84 L278.65,679.07 L282.35,679.30 L286.06,679.52 L289.76,679.76 L293.47,679.99 L297.18,680.22 L300.88,680.46 L304.59,680.69 L308.29,680.93 L312.00,681.17 L315.71,681.41 L319.41,681.66 L323.12,681.90 L326.82,682.15 L330.53,682.39 L334.24,682.64 L337.94,682.89 L341.65,683.14 L345.35,683.39 L349.06,683.64 L352.76,683.90 L356.47,684.15 L360.18,684.41 L363.88,684.66 L367.59,684.92 L371.29,685.18 L375.00,685.44 L378.71,685.69 L382.41,685.95 L386.12,686.21 L389.82,686.47 L393.53,686.74 L397.24,687.00 L400.94,687.26 L404.65,687.52 L408.35,687.78 L412.06,688.05 L415.76,688.31 L419.47,688.57 L423.18,688.84 L426.88,689.10 L430.59,689.36 L434.29,689.62 L438.00,689.89 L441.71,690.15 L445.41,690.41 L449.12,690.68 L452.82,690.94 L456.53,691.20 L460.24,691.46 L463.94,691.72 L467.65,691.99 L471.35,692.25 L475.06,692.51 L478.76,692.76 L482.47,693.02 L486.18,693.28 L489.88,693.54 L493.59,693.80 L497.29,694.05 L501.00,694.31" fill="none" stroke="#dc2830" stroke-width="3.0" stroke-dasharray="4.6 4.0" stroke-linejoin="round"/>
<path d="M60.00,674.58 L63.71,674.60 L67.41,674.62 L71.12,674.64 L74.82,674.68 L78.53,674.72 L82.24,674.76 L85.94,674.82 L89.65,674.88 L93.35,674.94 L97.06,675.01 L100.76,675.09 L104.47,675.17 L108.18,675.26 L111.88,675.35 L115.59,675.45 L119.29,675.55 L123.00,675.66 L126.71,675.78 L130.41,675.90 L134.12,676.02 L137.82,676.15 L141.53,676.29 L145.24,676.42 L148.94,676.57 L152.65,676.72 L156.35,676.87 L160.06,677.02 L163.76,677.19 L167.47,677.35 L171.18,677.52 L174.88,677.69 L178.59,677.87 L182.29,678.05 L186.00,678.23 L189.71,678.42 L193.41,678.61 L197.12,678.81 L200.82,679.01 L204.53,679.21 L208.24,679.41 L211.94,679.62 L215.65,679.83 L219.35,680.04 L223.06,680.26 L226.76,680.47 L230.47,680.69 L234.18,680.92 L237.88,681.14 L241.59,681.37 L245.29,681.60 L249.00,681.83 L252.71,682.06 L256.41,682.30 L260.12,682.54 L263.82,682.78 L267.53,683.02 L271.24,683.26 L274.94,683.50 L278.65,683.75 L282.35,683.99 L286.06,684.24 L289.76,684.49 L293.47,684.73 L297.18,684.98 L300.88,685.23 L304.59,685.49 L308.29,685.74 L312.00,685.99 L315.71,686.24 L319.41,686.49 L323.12,686.75 L326.82,687.00 L330.53,687.25 L334.24,687.50 L337.94,687.75 L341.65,688.01 L345.35,688.26 L349.06,688.51 L352.76,688.76 L356.47,689.01 L360.18,689.26 L363.88,689.50 L367.59,689.75 L371.29,690.00 L375.00,690.24 L378.71,690.48 L382.41,690.73 L386.12,690.97 L389.82,691.21 L393.53,691.44 L397.24,691.68 L400.94,691.91 L404.65,692.14 L408.35,692.37 L412.06,692.60 L415.76,692.83 L419.47,693.05 L423.18,693.27 L426.88,693.49 L430.59,693.70 L434.29,693.92 L438.00,694.13 L441.71,694.33 L445.41,694.54 L449.12,694.74 L452.82,694.94 L456.53,695.13 L460.24,695.32 L463.94,695.51 L467.65,695.69 L471.35,695.87 L475.06,696.05 L478.76,696.22 L482.47,696.39 L486.18,696.56 L489.88,696.72 L493.59,696.88 L497.29,697.03 L501.00,697.18" fill="none" stroke="#f18a2b" stroke-width="2.8" stroke-linejoin="round"/>
<path d="M60.00,695.96 L63.71,696.00 L67.41,696.03 L71.12,696.08 L74.82,696.12 L78.53,696.17 L82.24,696.22 L85.94,696.27 L89.65,696.33 L93.35,696.39 L97.06,696.45 L100.76,696.51 L104.47,696.58 L108.18,696.65 L111.88,696.72 L115.59,696.80 L119.29,696.87 L123.00,696.95 L126.71,697.03 L130.41,697.12 L134.12,697.20 L137.82,697.29 L141.53,697.38 L145.24,697.48 L148.94,697.57 L152.65,697.67 L156.35,697.77 L160.06,697.87 L163.76,697.97 L167.47,698.08 L171.18,698.18 L174.88,698.29 L178.59,698.40 L182.29,698.52 L186.00,698.63 L189.71,698.75 L193.41,698.86 L197.12,698.98 L200.82,699.10 L204.53,699.23 L208.24,699.35 L211.94,699.48 L215.65,699.60 L219.35,699.73 L223.06,699.86 L226.76,699.99 L230.47,700.12 L234.18,700.25 L237.88,700.39 L241.59,700.52 L245.29,700.66 L249.00,700.80 L252.71,700.94 L256.41,701.08 L260.12,701.22 L263.82,701.36 L267.53,701.50 L271.24,701.64 L274.94,701.78 L278.65,701.93 L282.35,702.07 L286.06,702.22 L289.76,702.37 L293.47,702.51 L297.18,702.66 L300.88,702.81 L304.59,702.95 L308.29,703.10 L312.00,703.25 L315.71,703.40 L319.41,703.55 L323.12,703.70 L326.82,703.85 L330.53,704.00 L334.24,704.15 L337.94,704.30 L341.65,704.45 L345.35,704.60 L349.06,704.75 L352.76,704.90 L356.47,705.05 L360.18,705.20 L363.88,705.35 L367.59,705.50 L371.29,705.65 L375.00,705.79 L378.71,705.94 L382.41,706.09 L386.12,706.24 L389.82,706.38 L393.53,706.53 L397.24,706.68 L400.94,706.82 L404.65,706.96 L408.35,707.11 L412.06,707.25 L415.76,707.39 L419.47,707.53 L423.18,707.67 L426.88,707.81 L430.59,707.95 L434.29,708.09 L438.00,708.23 L441.71,708.36 L445.41,708.49 L449.12,708.63 L452.82,708.76 L456.53,708.89 L460.24,709.02 L463.94,709.15 L467.65,709.27 L471.35,709.40 L475.06,709.52 L478.76,709.64 L482.47,709.76 L486.18,709.88 L489.88,710.00 L493.59,710.12 L497.29,710.23 L501.00,710.34" fill="none" stroke="#64c1ba" stroke-width="2.6" stroke-dasharray="4.5 4.15" stroke-linejoin="round"/>
<rect x="57.7" y="769.2" width="446.80" height="301.50" fill="none" stroke="#000" stroke-width="2.6"/>
<line x1="87.13" y1="769.20" x2="87.13" y2="774.50" stroke="#000" stroke-width="2.2"/>
<line x1="87.13" y1="1070.70" x2="87.13" y2="1065.40" stroke="#000" stroke-width="2.2"/>
<line x1="116.75" y1="769.20" x2="116.75" y2="774.50" stroke="#000" stroke-width="2.2"/>
<line x1="116.75" y1="1070.70" x2="116.75" y2="1065.40" stroke="#000" stroke-width="2.2"/>
<line x1="146.38" y1="769.20" x2="146.38" y2="774.50" stroke="#000" stroke-width="2.2"/>
<line x1="146.38" y1="1070.70" x2="146.38" y2="1065.40" stroke="#000" stroke-width="2.2"/>
<line x1="176.00" y1="769.20" x2="176.00" y2="774.50" stroke="#000" stroke-width="2.2"/>
<line x1="176.00" y1="1070.70" x2="176.00" y2="1065.40" stroke="#000" stroke-width="2.2"/>
<line x1="205.63" y1="769.20" x2="205.63" y2="778.70" stroke="#000" stroke-width="2.2"/>
<line x1="205.63" y1="1070.70" x2="205.63" y2="1061.20" stroke="#000" stroke-width="2.2"/>
<line x1="235.26" y1="769.20" x2="235.26" y2="774.50" stroke="#000" stroke-width="2.2"/>
<line x1="235.26" y1="1070.70" x2="235.26" y2="1065.40" stroke="#000" stroke-width="2.2"/>
<line x1="264.88" y1="769.20" x2="264.88" y2="774.50" stroke="#000" stroke-width="2.2"/>
<line x1="264.88" y1="1070.70" x2="264.88" y2="1065.40" stroke="#000" stroke-width="2.2"/>
<line x1="294.51" y1="769.20" x2="294.51" y2="774.50" stroke="#000" stroke-width="2.2"/>
<line x1="294.51" y1="1070.70" x2="294.51" y2="1065.40" stroke="#000" stroke-width="2.2"/>
<line x1="324.13" y1="769.20" x2="324.13" y2="774.50" stroke="#000" stroke-width="2.2"/>
<line x1="324.13" y1="1070.70" x2="324.13" y2="1065.40" stroke="#000" stroke-width="2.2"/>
<line x1="353.76" y1="769.20" x2="353.76" y2="778.70" stroke="#000" stroke-width="2.2"/>
<line x1="353.76" y1="1070.70" x2="353.76" y2="1061.20" stroke="#000" stroke-width="2.2"/>
<line x1="383.39" y1="769.20" x2="383.39" y2="774.50" stroke="#000" stroke-width="2.2"/>
<line x1="383.39" y1="1070.70" x2="383.39" y2="1065.40" stroke="#000" stroke-width="2.2"/>
<line x1="413.01" y1="769.20" x2="413.01" y2="774.50" stroke="#000" stroke-width="2.2"/>
<line x1="413.01" y1="1070.70" x2="413.01" y2="1065.40" stroke="#000" stroke-width="2.2"/>
<line x1="442.64" y1="769.20" x2="442.64" y2="774.50" stroke="#000" stroke-width="2.2"/>
<line x1="442.64" y1="1070.70" x2="442.64" y2="1065.40" stroke="#000" stroke-width="2.2"/>
<line x1="472.26" y1="769.20" x2="472.26" y2="774.50" stroke="#000" stroke-width="2.2"/>
<line x1="472.26" y1="1070.70" x2="472.26" y2="1065.40" stroke="#000" stroke-width="2.2"/>
<line x1="501.89" y1="769.20" x2="501.89" y2="778.70" stroke="#000" stroke-width="2.2"/>
<line x1="501.89" y1="1070.70" x2="501.89" y2="1061.20" stroke="#000" stroke-width="2.2"/>
<line x1="57.70" y1="941.60" x2="67.20" y2="941.60" stroke="#000" stroke-width="2.2"/>
<line x1="504.50" y1="941.60" x2="495.00" y2="941.60" stroke="#000" stroke-width="2.2"/>
<line x1="57.70" y1="1068.24" x2="63.60" y2="1068.24" stroke="#000" stroke-width="2.2"/>
<line x1="504.50" y1="1068.24" x2="498.60" y2="1068.24" stroke="#000" stroke-width="2.2"/>
<line x1="57.70" y1="1037.98" x2="63.60" y2="1037.98" stroke="#000" stroke-width="2.2"/>
<line x1="504.50" y1="1037.98" x2="498.60" y2="1037.98" stroke="#000" stroke-width="2.2"/>
<line x1="57.70" y1="1014.51" x2="63.60" y2="1014.51" stroke="#000" stroke-width="2.2"/>
<line x1="504.50" y1="1014.51" x2="498.60" y2="1014.51" stroke="#000" stroke-width="2.2"/>
<line x1="57.70" y1="995.33" x2="63.60" y2="995.33" stroke="#000" stroke-width="2.2"/>
<line x1="504.50" y1="995.33" x2="498.60" y2="995.33" stroke="#000" stroke-width="2.2"/>
<line x1="57.70" y1="979.12" x2="63.60" y2="979.12" stroke="#000" stroke-width="2.2"/>
<line x1="504.50" y1="979.12" x2="498.60" y2="979.12" stroke="#000" stroke-width="2.2"/>
<line x1="57.70" y1="965.07" x2="63.60" y2="965.07" stroke="#000" stroke-width="2.2"/>
<line x1="504.50" y1="965.07" x2="498.60" y2="965.07" stroke="#000" stroke-width="2.2"/>
<line x1="57.70" y1="952.68" x2="63.60" y2="952.68" stroke="#000" stroke-width="2.2"/>
<line x1="504.50" y1="952.68" x2="498.60" y2="952.68" stroke="#000" stroke-width="2.2"/>
<line x1="57.70" y1="868.69" x2="63.60" y2="868.69" stroke="#000" stroke-width="2.2"/>
<line x1="504.50" y1="868.69" x2="498.60" y2="868.69" stroke="#000" stroke-width="2.2"/>
<line x1="57.70" y1="826.04" x2="63.60" y2="826.04" stroke="#000" stroke-width="2.2"/>
<line x1="504.50" y1="826.04" x2="498.60" y2="826.04" stroke="#000" stroke-width="2.2"/>
<line x1="57.70" y1="795.78" x2="63.60" y2="795.78" stroke="#000" stroke-width="2.2"/>
<line x1="504.50" y1="795.78" x2="498.60" y2="795.78" stroke="#000" stroke-width="2.2"/>
<line x1="57.70" y1="772.31" x2="63.60" y2="772.31" stroke="#000" stroke-width="2.2"/>
<line x1="504.50" y1="772.31" x2="498.60" y2="772.31" stroke="#000" stroke-width="2.2"/>
<text x="45.92" y="776.50" font-size="13" font-weight="normal" textLength="7.68" lengthAdjust="spacingAndGlyphs" style="stroke-width:0.55px">5</text>
<text x="45.61" y="800.00" font-size="13" font-weight="normal" textLength="8.88" lengthAdjust="spacingAndGlyphs" style="stroke-width:0.55px">4</text>
<text x="45.91" y="829.40" font-size="13" font-weight="normal" textLength="8.27" lengthAdjust="spacingAndGlyphs" style="stroke-width:0.55px">3</text>
<text x="45.70" y="872.50" font-size="13" font-weight="normal" textLength="8.61" lengthAdjust="spacingAndGlyphs" style="stroke-width:0.55px">2</text>
<text x="45.73" y="998.10" font-size="13" font-weight="normal" textLength="8.14" lengthAdjust="spacingAndGlyphs" style="stroke-width:0.55px">6</text>
<text x="46.34" y="1018.70" font-size="13" font-weight="normal" textLength="7.45" lengthAdjust="spacingAndGlyphs" style="stroke-width:0.55px">5</text>
<text x="45.63" y="1041.50" font-size="13" font-weight="normal" textLength="8.44" lengthAdjust="spacingAndGlyphs" style="stroke-width:0.55px">4</text>
<text x="46.36" y="1071.10" font-size="13" font-weight="normal" textLength="7.45" lengthAdjust="spacingAndGlyphs" style="stroke-width:0.55px">3</text>
<text x="1.43" y="948.20" font-size="24.3" font-weight="normal" textLength="53.84" lengthAdjust="spacingAndGlyphs">0.001</text>
<text x="71.02" y="795.00" font-size="21.6" font-weight="bold" textLength="25.86" lengthAdjust="spacingAndGlyphs" style="stroke-width:0.2px">(c)</text>
<path d="M60.00,818.35 L63.71,818.39 L67.41,818.44 L71.12,818.48 L74.82,818.53 L78.53,818.59 L82.24,818.65 L85.94,818.72 L89.65,818.80 L93.35,818.89 L97.06,818.98 L100.76,819.09 L104.47,819.22 L108.18,819.35 L111.88,819.51 L115.59,819.68 L119.29,819.86 L123.00,820.07 L126.71,820.29 L130.41,820.54 L134.12,820.80 L137.82,821.10 L141.53,821.41 L145.24,821.75 L148.94,822.12 L152.65,822.51 L156.35,822.94 L160.06,823.39 L163.76,823.88 L167.47,824.39 L171.18,824.94 L174.88,825.53 L178.59,826.15 L182.29,826.81 L186.00,827.50 L189.71,828.24 L193.41,829.01 L197.12,829.83 L200.82,830.69 L204.53,831.59 L208.24,832.53 L211.94,833.52 L215.65,834.54 L219.35,835.60 L223.06,836.70 L226.76,837.83 L230.47,838.99 L234.18,840.18 L237.88,841.41 L241.59,842.66 L245.29,843.94 L249.00,845.25 L252.71,846.58 L256.41,847.93 L260.12,849.30 L263.82,850.70 L267.53,852.11 L271.24,853.54 L274.94,854.99 L278.65,856.45 L282.35,857.92 L286.06,859.41 L289.76,860.90 L293.47,862.40 L297.18,863.91 L300.88,865.43 L304.59,866.95 L308.29,868.47 L312.00,870.00 L315.71,871.53 L319.41,873.06 L323.12,874.60 L326.82,876.13 L330.53,877.66 L334.24,879.19 L337.94,880.72 L341.65,882.24 L345.35,883.76 L349.06,885.28 L352.76,886.79 L356.47,888.29 L360.18,889.78 L363.88,891.27 L367.59,892.75 L371.29,894.21 L375.00,895.67 L378.71,897.11 L382.41,898.55 L386.12,899.97 L389.82,901.37 L393.53,902.76 L397.24,904.13 L400.94,905.49 L404.65,906.83 L408.35,908.15 L412.06,909.45 L415.76,910.73 L419.47,911.99 L423.18,913.23 L426.88,914.45 L430.59,915.64 L434.29,916.81 L438.00,917.95 L441.71,919.07 L445.41,920.16 L449.12,921.23 L452.82,922.26 L456.53,923.27 L460.24,924.24 L463.94,925.19 L467.65,926.10 L471.35,926.98 L475.06,927.83 L478.76,928.64 L482.47,929.42 L486.18,930.16 L489.88,930.87 L493.59,931.54 L497.29,932.17 L501.00,932.76" fill="none" stroke="#dc1f7d" stroke-width="2.8" stroke-dasharray="8.7 7.7" stroke-linejoin="round"/>
<path d="M60.00,861.41 L63.71,861.45 L67.41,861.46 L71.12,861.46 L74.82,861.43 L78.53,861.38 L82.24,861.32 L85.94,861.24 L89.65,861.14 L93.35,861.03 L97.06,860.90 L100.76,860.77 L104.47,860.62 L108.18,860.46 L111.88,860.29 L115.59,860.12 L119.29,859.94 L123.00,859.76 L126.71,859.57 L130.41,859.38 L134.12,859.18 L137.82,858.99 L141.53,858.80 L145.24,858.61 L148.94,858.43 L152.65,858.25 L156.35,858.07 L160.06,857.90 L163.76,857.75 L167.47,857.60 L171.18,857.46 L174.88,857.33 L178.59,857.22 L182.29,857.12 L186.00,857.04 L189.71,856.97 L193.41,856.92 L197.12,856.90 L200.82,856.89 L204.53,856.90 L208.24,856.94 L211.94,857.00 L215.65,857.08 L219.35,857.20 L223.06,857.34 L226.76,857.51 L230.47,857.70 L234.18,857.94 L237.88,858.20 L241.59,858.49 L245.29,858.82 L249.00,859.18 L252.71,859.57 L256.41,859.99 L260.12,860.43 L263.82,860.91 L267.53,861.41 L271.24,861.94 L274.94,862.49 L278.65,863.07 L282.35,863.68 L286.06,864.31 L289.76,864.96 L293.47,865.64 L297.18,866.33 L300.88,867.05 L304.59,867.79 L308.29,868.55 L312.00,869.32 L315.71,870.12 L319.41,870.93 L323.12,871.76 L326.82,872.61 L330.53,873.47 L334.24,874.35 L337.94,875.24 L341.65,876.14 L345.35,877.06 L349.06,877.99 L352.76,878.93 L356.47,879.87 L360.18,880.83 L363.88,881.80 L367.59,882.77 L371.29,883.75 L375.00,884.73 L378.71,885.72 L382.41,886.72 L386.12,887.71 L389.82,888.71 L393.53,889.71 L397.24,890.70 L400.94,891.70 L404.65,892.70 L408.35,893.69 L412.06,894.68 L415.76,895.67 L419.47,896.65 L423.18,897.62 L426.88,898.59 L430.59,899.55 L434.29,900.50 L438.00,901.44 L441.71,902.37 L445.41,903.29 L449.12,904.20 L452.82,905.09 L456.53,905.97 L460.24,906.84 L463.94,907.69 L467.65,908.52 L471.35,909.34 L475.06,910.13 L478.76,910.91 L482.47,911.67 L486.18,912.41 L489.88,913.12 L493.59,913.81 L497.29,914.48 L501.00,915.13" fill="none" stroke="#8a4698" stroke-width="2.6" stroke-linejoin="round"/>
<path d="M60.00,925.17 L63.71,925.01 L67.41,924.84 L71.12,924.67 L74.82,924.50 L78.53,924.32 L82.24,924.15 L85.94,923.97 L89.65,923.79 L93.35,923.61 L97.06,923.43 L100.76,923.24 L104.47,923.06 L108.18,922.87 L111.88,922.68 L115.59,922.49 L119.29,922.30 L123.00,922.11 L126.71,921.91 L130.41,921.72 L134.12,921.52 L137.82,921.32 L141.53,921.12 L145.24,920.92 L148.94,920.72 L152.65,920.52 L156.35,920.31 L160.06,920.11 L163.76,919.90 L167.47,919.70 L171.18,919.49 L174.88,919.28 L178.59,919.08 L182.29,918.87 L186.00,918.66 L189.71,918.45 L193.41,918.24 L197.12,918.02 L200.82,917.81 L204.53,917.60 L208.24,917.39 L211.94,917.17 L215.65,916.96 L219.35,916.75 L223.06,916.53 L226.76,916.32 L230.47,916.10 L234.18,915.89 L237.88,915.68 L241.59,915.46 L245.29,915.25 L249.00,915.03 L252.71,914.82 L256.41,914.61 L260.12,914.39 L263.82,914.18 L267.53,913.97 L271.24,913.75 L274.94,913.54 L278.65,913.33 L282.35,913.12 L286.06,912.91 L289.76,912.70 L293.47,912.49 L297.18,912.28 L300.88,912.07 L304.59,911.86 L308.29,911.66 L312.00,911.45 L315.71,911.24 L319.41,911.04 L323.12,910.84 L326.82,910.63 L330.53,910.43 L334.24,910.23 L337.94,910.03 L341.65,909.84 L345.35,909.64 L349.06,909.44 L352.76,909.25 L356.47,909.06 L360.18,908.87 L363.88,908.68 L367.59,908.49 L371.29,908.30 L375.00,908.12 L378.71,907.93 L382.41,907.75 L386.12,907.57 L389.82,907.39 L393.53,907.21 L397.24,907.04 L400.94,906.87 L404.65,906.69 L408.35,906.52 L412.06,906.36 L415.76,906.19 L419.47,906.03 L423.18,905.87 L426.88,905.71 L430.59,905.55 L434.29,905.40 L438.00,905.24 L441.71,905.09 L445.41,904.95 L449.12,904.80 L452.82,904.66 L456.53,904.52 L460.24,904.38 L463.94,904.25 L467.65,904.11 L471.35,903.98 L475.06,903.86 L478.76,903.73 L482.47,903.61 L486.18,903.49 L489.88,903.38 L493.59,903.26 L497.29,903.15 L501.00,903.05" fill="none" stroke="#3d3b84" stroke-width="2.5" stroke-dasharray="4.7 3.8" stroke-linejoin="round"/>
<path d="M60.00,995.55 L63.71,995.54 L67.41,995.53 L71.12,995.50 L74.82,995.47 L78.53,995.43 L82.24,995.38 L85.94,995.32 L89.65,995.26 L93.35,995.18 L97.06,995.11 L100.76,995.02 L104.47,994.93 L108.18,994.83 L111.88,994.72 L115.59,994.61 L119.29,994.49 L123.00,994.36 L126.71,994.23 L130.41,994.10 L134.12,993.95 L137.82,993.81 L141.53,993.65 L145.24,993.49 L148.94,993.33 L152.65,993.16 L156.35,992.98 L160.06,992.80 L163.76,992.62 L167.47,992.43 L171.18,992.24 L174.88,992.04 L178.59,991.84 L182.29,991.63 L186.00,991.42 L189.71,991.21 L193.41,990.99 L197.12,990.77 L200.82,990.55 L204.53,990.32 L208.24,990.09 L211.94,989.86 L215.65,989.62 L219.35,989.38 L223.06,989.14 L226.76,988.90 L230.47,988.65 L234.18,988.41 L237.88,988.16 L241.59,987.90 L245.29,987.65 L249.00,987.40 L252.71,987.14 L256.41,986.88 L260.12,986.62 L263.82,986.37 L267.53,986.10 L271.24,985.84 L274.94,985.58 L278.65,985.32 L282.35,985.06 L286.06,984.80 L289.76,984.53 L293.47,984.27 L297.18,984.01 L300.88,983.75 L304.59,983.49 L308.29,983.22 L312.00,982.96 L315.71,982.71 L319.41,982.45 L323.12,982.19 L326.82,981.94 L330.53,981.68 L334.24,981.43 L337.94,981.18 L341.65,980.93 L345.35,980.68 L349.06,980.44 L352.76,980.20 L356.47,979.96 L360.18,979.72 L363.88,979.49 L367.59,979.25 L371.29,979.03 L375.00,978.80 L378.71,978.58 L382.41,978.36 L386.12,978.14 L389.82,977.93 L393.53,977.72 L397.24,977.52 L400.94,977.32 L404.65,977.12 L408.35,976.93 L412.06,976.75 L415.76,976.56 L419.47,976.39 L423.18,976.21 L426.88,976.05 L430.59,975.88 L434.29,975.73 L438.00,975.58 L441.71,975.43 L445.41,975.29 L449.12,975.15 L452.82,975.03 L456.53,974.90 L460.24,974.79 L463.94,974.68 L467.65,974.58 L471.35,974.48 L475.06,974.39 L478.76,974.31 L482.47,974.23 L486.18,974.16 L489.88,974.10 L493.59,974.05 L497.29,974.00 L501.00,973.97" fill="none" stroke="#3656a2" stroke-width="2.35" stroke-linejoin="round"/>
<path d="M60.00,1002.38 L63.71,1002.32 L67.41,1002.26 L71.12,1002.19 L74.82,1002.11 L78.53,1002.03 L82.24,1001.94 L85.94,1001.85 L89.65,1001.75 L93.35,1001.64 L97.06,1001.53 L100.76,1001.41 L104.47,1001.29 L108.18,1001.17 L111.88,1001.03 L115.59,1000.90 L119.29,1000.76 L123.00,1000.61 L126.71,1000.46 L130.41,1000.30 L134.12,1000.14 L137.82,999.97 L141.53,999.80 L145.24,999.63 L148.94,999.45 L152.65,999.26 L156.35,999.08 L160.06,998.89 L163.76,998.69 L167.47,998.49 L171.18,998.29 L174.88,998.08 L178.59,997.87 L182.29,997.65 L186.00,997.44 L189.71,997.21 L193.41,996.99 L197.12,996.76 L200.82,996.53 L204.53,996.30 L208.24,996.06 L211.94,995.82 L215.65,995.58 L219.35,995.33 L223.06,995.08 L226.76,994.83 L230.47,994.58 L234.18,994.32 L237.88,994.06 L241.59,993.80 L245.29,993.54 L249.00,993.28 L252.71,993.01 L256.41,992.74 L260.12,992.47 L263.82,992.20 L267.53,991.92 L271.24,991.65 L274.94,991.37 L278.65,991.09 L282.35,990.81 L286.06,990.53 L289.76,990.25 L293.47,989.97 L297.18,989.69 L300.88,989.40 L304.59,989.11 L308.29,988.83 L312.00,988.54 L315.71,988.25 L319.41,987.97 L323.12,987.68 L326.82,987.39 L330.53,987.10 L334.24,986.81 L337.94,986.52 L341.65,986.23 L345.35,985.94 L349.06,985.65 L352.76,985.37 L356.47,985.08 L360.18,984.79 L363.88,984.50 L367.59,984.22 L371.29,983.93 L375.00,983.65 L378.71,983.36 L382.41,983.08 L386.12,982.80 L389.82,982.51 L393.53,982.24 L397.24,981.96 L400.94,981.68 L404.65,981.40 L408.35,981.13 L412.06,980.86 L415.76,980.59 L419.47,980.32 L423.18,980.05 L426.88,979.78 L430.59,979.52 L434.29,979.26 L438.00,979.00 L441.71,978.75 L445.41,978.49 L449.12,978.24 L452.82,977.99 L456.53,977.74 L460.24,977.50 L463.94,977.26 L467.65,977.02 L471.35,976.79 L475.06,976.55 L478.76,976.33 L482.47,976.10 L486.18,975.88 L489.88,975.66 L493.59,975.44 L497.29,975.23 L501.00,975.02" fill="none" stroke="#64c1ba" stroke-width="2.6" stroke-dasharray="4.5 4.15" stroke-linejoin="round"/>
<path d="M60.00,1011.22 L63.71,1011.23 L67.41,1011.23 L71.12,1011.22 L74.82,1011.19 L78.53,1011.16 L82.24,1011.11 L85.94,1011.05 L89.65,1010.98 L93.35,1010.90 L97.06,1010.82 L100.76,1010.72 L104.47,1010.61 L108.18,1010.49 L111.88,1010.36 L115.59,1010.22 L119.29,1010.07 L123.00,1009.92 L126.71,1009.75 L130.41,1009.58 L134.12,1009.40 L137.82,1009.21 L141.53,1009.01 L145.24,1008.81 L148.94,1008.59 L152.65,1008.37 L156.35,1008.15 L160.06,1007.91 L163.76,1007.67 L167.47,1007.43 L171.18,1007.18 L174.88,1006.92 L178.59,1006.65 L182.29,1006.38 L186.00,1006.11 L189.71,1005.83 L193.41,1005.54 L197.12,1005.25 L200.82,1004.96 L204.53,1004.66 L208.24,1004.36 L211.94,1004.05 L215.65,1003.74 L219.35,1003.43 L223.06,1003.11 L226.76,1002.79 L230.47,1002.47 L234.18,1002.15 L237.88,1001.82 L241.59,1001.49 L245.29,1001.16 L249.00,1000.83 L252.71,1000.49 L256.41,1000.16 L260.12,999.82 L263.82,999.48 L267.53,999.14 L271.24,998.81 L274.94,998.47 L278.65,998.13 L282.35,997.79 L286.06,997.45 L289.76,997.11 L293.47,996.78 L297.18,996.44 L300.88,996.10 L304.59,995.77 L308.29,995.44 L312.00,995.11 L315.71,994.78 L319.41,994.46 L323.12,994.13 L326.82,993.81 L330.53,993.50 L334.24,993.18 L337.94,992.87 L341.65,992.57 L345.35,992.26 L349.06,991.96 L352.76,991.67 L356.47,991.38 L360.18,991.09 L363.88,990.81 L367.59,990.53 L371.29,990.26 L375.00,990.00 L378.71,989.74 L382.41,989.48 L386.12,989.23 L389.82,988.99 L393.53,988.76 L397.24,988.53 L400.94,988.31 L404.65,988.09 L408.35,987.89 L412.06,987.69 L415.76,987.50 L419.47,987.31 L423.18,987.14 L426.88,986.97 L430.59,986.81 L434.29,986.66 L438.00,986.52 L441.71,986.39 L445.41,986.27 L449.12,986.16 L452.82,986.05 L456.53,985.96 L460.24,985.88 L463.94,985.81 L467.65,985.75 L471.35,985.70 L475.06,985.66 L478.76,985.63 L482.47,985.62 L486.18,985.62 L489.88,985.62 L493.59,985.64 L497.29,985.68 L501.00,985.72" fill="none" stroke="#e3222b" stroke-width="3.0" stroke-linejoin="round"/>
<path d="M60.00,1015.83 L63.71,1015.84 L67.41,1015.85 L71.12,1015.85 L74.82,1015.84 L78.53,1015.82 L82.24,1015.79 L85.94,1015.76 L89.65,1015.72 L93.35,1015.67 L97.06,1015.61 L100.76,1015.55 L104.47,1015.48 L108.18,1015.40 L111.88,1015.31 L115.59,1015.22 L119.29,1015.12 L123.00,1015.01 L126.71,1014.90 L130.41,1014.78 L134.12,1014.65 L137.82,1014.52 L141.53,1014.38 L145.24,1014.23 L148.94,1014.08 L152.65,1013.92 L156.35,1013.75 L160.06,1013.58 L163.76,1013.41 L167.47,1013.22 L171.18,1013.04 L174.88,1012.84 L178.59,1012.65 L182.29,1012.44 L186.00,1012.23 L189.71,1012.02 L193.41,1011.80 L197.12,1011.58 L200.82,1011.35 L204.53,1011.11 L208.24,1010.88 L211.94,1010.63 L215.65,1010.39 L219.35,1010.14 L223.06,1009.88 L226.76,1009.62 L230.47,1009.36 L234.18,1009.09 L237.88,1008.82 L241.59,1008.55 L245.29,1008.27 L249.00,1007.99 L252.71,1007.70 L256.41,1007.41 L260.12,1007.12 L263.82,1006.83 L267.53,1006.53 L271.24,1006.23 L274.94,1005.93 L278.65,1005.62 L282.35,1005.32 L286.06,1005.01 L289.76,1004.69 L293.47,1004.38 L297.18,1004.06 L300.88,1003.74 L304.59,1003.42 L308.29,1003.10 L312.00,1002.77 L315.71,1002.45 L319.41,1002.12 L323.12,1001.79 L326.82,1001.46 L330.53,1001.13 L334.24,1000.80 L337.94,1000.46 L341.65,1000.13 L345.35,999.79 L349.06,999.46 L352.76,999.12 L356.47,998.78 L360.18,998.45 L363.88,998.11 L367.59,997.77 L371.29,997.43 L375.00,997.09 L378.71,996.75 L382.41,996.42 L386.12,996.08 L389.82,995.74 L393.53,995.41 L397.24,995.07 L400.94,994.73 L404.65,994.40 L408.35,994.07 L412.06,993.73 L415.76,993.40 L419.47,993.07 L423.18,992.74 L426.88,992.41 L430.59,992.09 L434.29,991.76 L438.00,991.44 L441.71,991.12 L445.41,990.80 L449.12,990.48 L452.82,990.17 L456.53,989.86 L460.24,989.55 L463.94,989.24 L467.65,988.93 L471.35,988.63 L475.06,988.33 L478.76,988.03 L482.47,987.74 L486.18,987.45 L489.88,987.16 L493.59,986.88 L497.29,986.59 L501.00,986.32" fill="none" stroke="#dc2830" stroke-width="3.0" stroke-dasharray="4.6 4.0" stroke-linejoin="round"/>
<path d="M60.00,1025.02 L63.71,1025.00 L67.41,1024.97 L71.12,1024.94 L74.82,1024.89 L78.53,1024.84 L82.24,1024.78 L85.94,1024.71 L89.65,1024.64 L93.35,1024.56 L97.06,1024.47 L100.76,1024.38 L104.47,1024.28 L108.18,1024.17 L111.88,1024.05 L115.59,1023.93 L119.29,1023.81 L123.00,1023.67 L126.71,1023.53 L130.41,1023.39 L134.12,1023.24 L137.82,1023.08 L141.53,1022.92 L145.24,1022.75 L148.94,1022.58 L152.65,1022.40 L156.35,1022.21 L160.06,1022.02 L163.76,1021.83 L167.47,1021.63 L171.18,1021.42 L174.88,1021.21 L178.59,1021.00 L182.29,1020.78 L186.00,1020.55 L189.71,1020.32 L193.41,1020.09 L197.12,1019.85 L200.82,1019.61 L204.53,1019.37 L208.24,1019.12 L211.94,1018.86 L215.65,1018.60 L219.35,1018.34 L223.06,1018.08 L226.76,1017.81 L230.47,1017.54 L234.18,1017.26 L237.88,1016.98 L241.59,1016.70 L245.29,1016.41 L249.00,1016.13 L252.71,1015.84 L256.41,1015.54 L260.12,1015.25 L263.82,1014.95 L267.53,1014.64 L271.24,1014.34 L274.94,1014.03 L278.65,1013.73 L282.35,1013.41 L286.06,1013.10 L289.76,1012.79 L293.47,1012.47 L297.18,1012.15 L300.88,1011.83 L304.59,1011.51 L308.29,1011.19 L312.00,1010.86 L315.71,1010.54 L319.41,1010.21 L323.12,1009.88 L326.82,1009.55 L330.53,1009.22 L334.24,1008.89 L337.94,1008.56 L341.65,1008.23 L345.35,1007.90 L349.06,1007.56 L352.76,1007.23 L356.47,1006.90 L360.18,1006.56 L363.88,1006.23 L367.59,1005.89 L371.29,1005.56 L375.00,1005.23 L378.71,1004.89 L382.41,1004.56 L386.12,1004.23 L389.82,1003.90 L393.53,1003.57 L397.24,1003.24 L400.94,1002.91 L404.65,1002.58 L408.35,1002.25 L412.06,1001.93 L415.76,1001.60 L419.47,1001.28 L423.18,1000.96 L426.88,1000.64 L430.59,1000.32 L434.29,1000.00 L438.00,999.69 L441.71,999.38 L445.41,999.06 L449.12,998.76 L452.82,998.45 L456.53,998.14 L460.24,997.84 L463.94,997.54 L467.65,997.25 L471.35,996.95 L475.06,996.66 L478.76,996.37 L482.47,996.09 L486.18,995.81 L489.88,995.53 L493.59,995.25 L497.29,994.98 L501.00,994.71" fill="none" stroke="#f18a2b" stroke-width="2.8" stroke-linejoin="round"/>
<path d="M60.00,1034.27 L63.71,1034.23 L67.41,1034.17 L71.12,1034.11 L74.82,1034.03 L78.53,1033.95 L82.24,1033.85 L85.94,1033.74 L89.65,1033.62 L93.35,1033.50 L97.06,1033.36 L100.76,1033.21 L104.47,1033.05 L108.18,1032.88 L111.88,1032.71 L115.59,1032.52 L119.29,1032.32 L123.00,1032.12 L126.71,1031.91 L130.41,1031.69 L134.12,1031.46 L137.82,1031.22 L141.53,1030.98 L145.24,1030.72 L148.94,1030.46 L152.65,1030.20 L156.35,1029.92 L160.06,1029.64 L163.76,1029.35 L167.47,1029.06 L171.18,1028.76 L174.88,1028.45 L178.59,1028.14 L182.29,1027.82 L186.00,1027.50 L189.71,1027.17 L193.41,1026.84 L197.12,1026.50 L200.82,1026.15 L204.53,1025.81 L208.24,1025.45 L211.94,1025.10 L215.65,1024.74 L219.35,1024.37 L223.06,1024.01 L226.76,1023.63 L230.47,1023.26 L234.18,1022.88 L237.88,1022.50 L241.59,1022.12 L245.29,1021.73 L249.00,1021.35 L252.71,1020.96 L256.41,1020.57 L260.12,1020.17 L263.82,1019.78 L267.53,1019.38 L271.24,1018.99 L274.94,1018.59 L278.65,1018.19 L282.35,1017.79 L286.06,1017.39 L289.76,1016.99 L293.47,1016.59 L297.18,1016.20 L300.88,1015.80 L304.59,1015.40 L308.29,1015.00 L312.00,1014.61 L315.71,1014.21 L319.41,1013.82 L323.12,1013.43 L326.82,1013.04 L330.53,1012.65 L334.24,1012.27 L337.94,1011.88 L341.65,1011.50 L345.35,1011.12 L349.06,1010.75 L352.76,1010.38 L356.47,1010.01 L360.18,1009.64 L363.88,1009.28 L367.59,1008.93 L371.29,1008.57 L375.00,1008.22 L378.71,1007.88 L382.41,1007.54 L386.12,1007.21 L389.82,1006.88 L393.53,1006.55 L397.24,1006.23 L400.94,1005.92 L404.65,1005.61 L408.35,1005.31 L412.06,1005.02 L415.76,1004.73 L419.47,1004.45 L423.18,1004.17 L426.88,1003.90 L430.59,1003.64 L434.29,1003.39 L438.00,1003.14 L441.71,1002.90 L445.41,1002.67 L449.12,1002.45 L452.82,1002.24 L456.53,1002.03 L460.24,1001.83 L463.94,1001.65 L467.65,1001.47 L471.35,1001.30 L475.06,1001.14 L478.76,1000.99 L482.47,1000.85 L486.18,1000.72 L489.88,1000.60 L493.59,1000.49 L497.29,1000.39 L501.00,1000.30" fill="none" stroke="#1c9444" stroke-width="2.3" stroke-dasharray="6.3 3.8 1.7 3.9" stroke-linejoin="round"/>
<text x="51.29" y="1093.70" font-size="24.3" font-weight="normal" textLength="14.02" lengthAdjust="spacingAndGlyphs">0</text>
<text x="186.93" y="1093.70" font-size="24.3" font-weight="normal" textLength="38.19" lengthAdjust="spacingAndGlyphs">100</text>
<text x="335.31" y="1093.70" font-size="24.3" font-weight="normal" textLength="38.62" lengthAdjust="spacingAndGlyphs">200</text>
<text x="482.08" y="1093.70" font-size="24.3" font-weight="normal" textLength="39.37" lengthAdjust="spacingAndGlyphs">300</text>
<text x="197.96" y="1120.60" font-size="24.3" font-weight="normal" textLength="166.97" lengthAdjust="spacingAndGlyphs">Temperature (K)</text>
<g transform="translate(18.1,374.0) rotate(-90)">
<text x="-0.72" y="0.00" font-size="24.3" font-weight="normal" textLength="14.60" lengthAdjust="spacingAndGlyphs">n</text>
<text x="14.71" y="8.40" font-size="14" font-weight="normal" textLength="16.47" lengthAdjust="spacingAndGlyphs">3d</text>
<text x="34.12" y="0.00" font-size="24.3" font-weight="normal" textLength="11.35" lengthAdjust="spacingAndGlyphs">x</text>
<text x="50.62" y="0.00" font-size="24.3" font-weight="normal" textLength="27.05" lengthAdjust="spacingAndGlyphs">10</text>
<text x="78.05" y="-8.40" font-size="13" font-weight="normal" textLength="13.50" lengthAdjust="spacingAndGlyphs">18</text>
<text x="96.34" y="0.00" font-size="24.3" font-weight="normal" textLength="38.62" lengthAdjust="spacingAndGlyphs">(cm</text>
<text x="134.35" y="-8.40" font-size="13" font-weight="normal" textLength="12.49" lengthAdjust="spacingAndGlyphs">-3</text>
<text x="147.66" y="0.00" font-size="24.3" font-weight="normal" textLength="6.59" lengthAdjust="spacingAndGlyphs">)</text>
</g>
<g transform="translate(20.9,719.0) rotate(-90)">
<text x="-1.21" y="0.00" font-size="24.3" font-weight="normal" textLength="134.17" lengthAdjust="spacingAndGlyphs">Mobility x 10</text>
<text x="132.62" y="-8.90" font-size="13" font-weight="normal" textLength="8.15" lengthAdjust="spacingAndGlyphs">3</text>
<text x="145.83" y="0.00" font-size="24.3" font-weight="normal" textLength="38.94" lengthAdjust="spacingAndGlyphs">(cm</text>
<text x="184.86" y="-8.90" font-size="13" font-weight="normal" textLength="7.87" lengthAdjust="spacingAndGlyphs">2</text>
<text x="193.49" y="0.00" font-size="24.3" font-weight="normal" textLength="28.09" lengthAdjust="spacingAndGlyphs">Vs)</text>
</g>
<g transform="translate(18.0,908.0) rotate(-90)">
<text x="-1.51" y="0.00" font-size="24.3" font-weight="normal" textLength="14.88" lengthAdjust="spacingAndGlyphs">ρ</text>
<text x="13.43" y="8.70" font-size="14" font-weight="normal" textLength="13.24" lengthAdjust="spacingAndGlyphs">xx</text>
<text x="27.15" y="0.00" font-size="24.3" font-weight="normal" textLength="58.00" lengthAdjust="spacingAndGlyphs">(Ω m)</text>
</g>
</svg>
</body></html>
